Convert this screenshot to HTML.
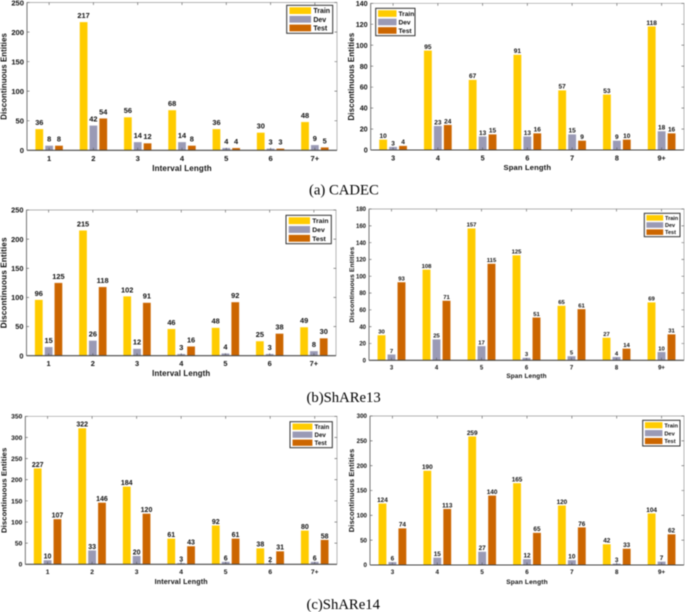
<!DOCTYPE html>
<html lang="en">
<head>
<meta charset="utf-8">
<title>Discontinuous entities by interval and span length</title>
<style>
html,body{margin:0;padding:0;background:#fff;width:685px;height:612px;overflow:hidden}
svg{display:block;filter:blur(0.5px)}
text{font-family:"Liberation Sans",sans-serif;font-weight:bold;fill:#111}
.cap{font-family:"Liberation Serif",serif;font-weight:normal;fill:#000;font-size:14.7px}
</style>
</head>
<body>
<svg id="figure" width="685" height="612" viewBox="0 0 685 612" xmlns="http://www.w3.org/2000/svg">
<text class="cap" x="309" y="194.5">(a) CADEC</text>
<text class="cap" x="306.5" y="402">(b)ShARe13</text>
<text class="cap" x="306.5" y="609">(c)ShARe14</text>
</svg>
<script>
var intervalCategories = ['1','2','3','4','5','6','7+'];
var spanCategories = ['3','4','5','6','7','8','9+'];

var cadecIntervalTrain = [36,217,56,68,36,30,48];
var cadecIntervalDev = [8,42,14,14,4,3,9];
var cadecIntervalTest = [8,54,12,8,4,3,5];
var cadecIntervalTicks = [0,50,100,150,200,250];

var cadecSpanTrain = [10,95,67,91,57,53,118];
var cadecSpanDev = [3,23,13,13,15,9,18];
var cadecSpanTest = [4,24,15,16,9,10,16];
var cadecSpanTicks = [0,20,40,60,80,100,120,140];

var share13IntervalTrain = [96,215,102,46,48,25,49];
var share13IntervalDev = [15,26,12,3,4,3,8];
var share13IntervalTest = [125,118,91,16,92,38,30];
var share13IntervalTicks = [0,50,100,150,200,250];

var share13SpanTrain = [30,108,157,125,65,27,69];
var share13SpanDev = [7,25,17,3,5,4,10];
var share13SpanTest = [93,71,115,51,61,14,31];
var share13SpanTicks = [0,20,40,60,80,100,120,140,160,180];

var share14IntervalTrain = [227,322,184,61,92,38,80];
var share14IntervalDev = [10,33,20,3,6,2,6];
var share14IntervalTest = [107,146,120,43,61,31,58];
var share14IntervalTicks = [0,50,100,150,200,250,300,350];

var share14SpanTrain = [124,190,259,165,120,42,104];
var share14SpanDev = [6,15,27,12,10,3,7];
var share14SpanTest = [74,113,140,65,76,33,62];
var share14SpanTicks = [0,50,100,150,200,250,300];

var seriesNames = ['Train','Dev','Test'];
var seriesColors = ['#ffcc00','#9a9ab5','#cc6600'];

var charts = [
 {id:'cadec-interval',cats:intervalCategories,train:cadecIntervalTrain,dev:cadecIntervalDev,test:cadecIntervalTest,ticks:cadecIntervalTicks,xTitle:'Interval Length',
  l:27,r:337,t:2.5,b:150.3,titleX:3.5,fs:7.6,vfs:7.4,gap:4,tfs:7.8,xt:10.5,xd:20.5,lg:[286.7,5.3,46,28]},
 {id:'cadec-span',cats:spanCategories,train:cadecSpanTrain,dev:cadecSpanDev,test:cadecSpanTest,ticks:cadecSpanTicks,xTitle:'Span Length',
  l:370.7,r:684,t:3.3,b:150,titleX:351,fs:7.2,vfs:6.5,gap:1.6,tfs:7.9,xt:10.5,xd:20,lg:[375.7,8.3,39.3,27.4]},
 {id:'share13-interval',cats:intervalCategories,train:share13IntervalTrain,dev:share13IntervalDev,test:share13IntervalTest,ticks:share13IntervalTicks,xTitle:'Interval Length',
  l:26.5,r:336,t:210,b:355.7,titleX:3.5,fs:7.4,vfs:7.4,gap:4,tfs:8.2,xt:10.5,xd:20.5,lg:[286,215.3,45.3,28.4]},
 {id:'share13-span',cats:spanCategories,train:share13SpanTrain,dev:share13SpanDev,test:share13SpanTest,ticks:share13SpanTicks,xTitle:'Span Length',
  l:369,r:684,t:209,b:360.3,titleX:351,fs:6,vfs:5.9,gap:1.6,tfs:6.8,xt:9.2,xd:17.8,lg:[644.3,213.3,35.7,23.4]},
 {id:'share14-interval',cats:intervalCategories,train:share14IntervalTrain,dev:share14IntervalDev,test:share14IntervalTest,ticks:share14IntervalTicks,xTitle:'Interval Length',
  l:25.3,r:337,t:416.3,b:564.3,titleX:3.5,fs:6.7,vfs:7,gap:1.5,tfs:7.7,xt:9.8,xd:19.8,lg:[290,421.7,42.3,26]},
 {id:'share14-span',cats:spanCategories,train:share14SpanTrain,dev:share14SpanDev,test:share14SpanTest,ticks:share14SpanTicks,xTitle:'Span Length',
  l:370,r:684,t:416,b:565,titleX:351,fs:6.2,vfs:6.4,gap:1.5,tfs:7.5,xt:9.2,xd:19,lg:[642.7,420.3,37.3,25.7]}
];

var NS = 'http://www.w3.org/2000/svg';
var figure = document.getElementById('figure');

function make(parent, tag, attrs, content) {
  var el = document.createElementNS(NS, tag);
  for (var k in attrs) { el.setAttribute(k, attrs[k]); }
  if (content !== undefined) { el.textContent = content; }
  parent.appendChild(el);
  return el;
}

function drawChart(c) {
  var n = c.cats.length;
  var unit = (c.r - c.l) / n;
  var yMax = c.ticks[c.ticks.length - 1];
  var xScale = function (i) { return c.l + unit * (i + 0.5); };
  var yScale = function (v) { return c.b - (c.b - c.t) * v / yMax; };
  var barW = unit * 0.18;
  var step = unit * 0.222;
  var tickLen = 2.5;

  var g = make(figure, 'g', {});
  
  

  var seriesValues = [c.train, c.dev, c.test];
  seriesValues.forEach(function (values, s) {
    var sg = make(g, 'g', {fill: seriesColors[s]});
    
    
    values.forEach(function (v, i) {
      var cx = xScale(i) + (s - 1) * step;
      var bar = make(sg, 'rect', {x: cx - barW / 2, y: yScale(v), width: barW, height: c.b - yScale(v), stroke: '#fff', 'stroke-opacity': 0.45, 'stroke-width': 0.5});
      
      
      var label = make(g, 'text', {x: cx, y: yScale(v) - c.gap, 'text-anchor': 'middle', 'font-size': c.vfs}, String(v));
      
      
    });
  });

  var frame = make(g, 'path', {d: 'M' + c.l + ' ' + c.b + 'V' + c.t + 'H' + c.r + 'V' + c.b, fill: 'none', stroke: '#9a9a9a', 'stroke-width': 0.7});
  
  
  var xAxis = make(g, 'line', {x1: c.l, x2: c.r, y1: c.b, y2: c.b, stroke: '#444', 'stroke-width': 1.1});
  
  
  var yAxis = make(g, 'line', {x1: c.l, x2: c.l, y1: c.t, y2: c.b, stroke: '#666', 'stroke-width': 0.8});
  
  

  c.cats.forEach(function (cat, i) {
    var x = xScale(i);
    var tick = make(g, 'path', {d: 'M' + x + ' ' + c.b + 'v' + (-tickLen) + 'M' + x + ' ' + c.t + 'v' + tickLen, stroke: '#555', 'stroke-width': 0.6});
    
    
    var label = make(g, 'text', {x: x, y: c.b + c.xt, 'text-anchor': 'middle', 'font-size': c.fs}, cat);
    
    
  });

  c.ticks.forEach(function (v) {
    var y = yScale(v);
    var tick = make(g, 'path', {d: 'M' + c.l + ' ' + y + 'h' + tickLen + 'M' + c.r + ' ' + y + 'h' + (-tickLen), stroke: '#555', 'stroke-width': 0.6});
    
    
    var label = make(g, 'text', {x: c.l - 3, y: y + c.fs * 0.36, 'text-anchor': 'end', 'font-size': c.fs}, String(v));
    
    
  });

  var xTitle = make(g, 'text', {x: (c.l + c.r) / 2, y: c.b + c.xd, 'text-anchor': 'middle', 'font-size': c.fs + 0.4, 'letter-spacing': 0.15}, c.xTitle);
  
  
  var midY = (c.t + c.b) / 2;
  var yTitle = make(g, 'text', {x: c.titleX, y: midY, 'text-anchor': 'middle', 'font-size': c.tfs, 'letter-spacing': 0.1, transform: 'rotate(-90 ' + c.titleX + ' ' + midY + ') translate(0 2.8)'}, 'Discontinuous Entities');
  
  

  var lx = c.lg[0], ly = c.lg[1], lw = c.lg[2], lh = c.lg[3];
  var legend = make(g, 'g', {});
  
  
  var box = make(legend, 'rect', {x: lx, y: ly, width: lw, height: lh, fill: '#fff', stroke: '#333', 'stroke-width': 1});
  
  
  seriesNames.forEach(function (name, s) {
    var rowH = (lh - 2) / 3;
    var cy = ly + 1 + rowH * (s + 0.5);
    var swatch = make(legend, 'rect', {x: lx + lw * 0.06, y: cy - rowH * 0.39, width: lw * 0.47, height: rowH * 0.78, fill: seriesColors[s]});
    
    
    var text = make(legend, 'text', {x: lx + lw * 0.58, y: cy + c.fs * 0.34, 'font-size': c.fs * 0.92}, name);
    
    
  });
}

charts.forEach(drawChart);
</script>
</body>
</html>
